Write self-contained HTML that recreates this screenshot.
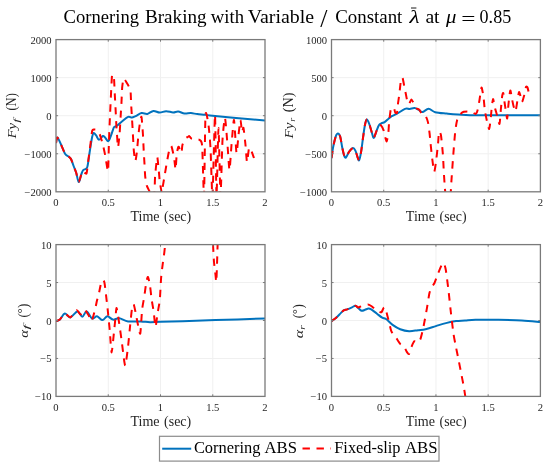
<!DOCTYPE html><html><head><meta charset="utf-8"><title>Cornering Braking</title><style>html,body{margin:0;padding:0;background:#fff;}svg{display:block;}text{font-family:'Liberation Serif', 'DejaVu Serif', serif;}</style></head><body>
<svg width="550" height="473" viewBox="0 0 550 473">
<rect width="550" height="473" fill="#fff"/>
<defs>
<clipPath id="cTL"><rect x="56.0" y="39.6" width="209.00" height="152.20"/></clipPath>
<clipPath id="cTR"><rect x="331.5" y="39.6" width="208.90" height="152.20"/></clipPath>
<clipPath id="cBL"><rect x="56.0" y="244.6" width="209.00" height="151.80"/></clipPath>
<clipPath id="cBR"><rect x="331.5" y="244.6" width="208.90" height="151.80"/></clipPath>
</defs>
<path d="M108.25 39.6V191.8M160.50 39.6V191.8M212.75 39.6V191.8M56.0 77.65H265.0M56.0 115.70H265.0M56.0 153.75H265.0" stroke="#f0f0f0" stroke-width="1" fill="none"/>
<g clip-path="url(#cTL)" fill="none" stroke-linejoin="round">
<path d="M56.00 143.00C56.25 142.08 56.53 136.93 57.50 137.50C58.47 138.07 60.52 143.65 61.80 146.40C63.08 149.15 64.07 152.30 65.20 154.00C66.33 155.70 67.62 155.73 68.60 156.60C69.58 157.47 70.27 157.63 71.10 159.20C71.93 160.77 72.75 163.75 73.60 166.00C74.45 168.25 75.35 170.03 76.20 172.70C77.05 175.37 77.85 181.72 78.70 182.00C79.55 182.28 80.58 176.35 81.30 174.40C82.02 172.45 82.20 171.25 83.00 170.30C83.80 169.35 85.33 169.47 86.10 168.70C86.87 167.93 86.97 168.73 87.60 165.70C88.23 162.67 89.13 155.32 89.90 150.50C90.67 145.68 91.57 139.72 92.20 136.80C92.83 133.88 93.07 133.27 93.70 133.00C94.33 132.73 95.12 134.07 96.00 135.20C96.88 136.33 97.87 139.67 99.00 139.80C100.13 139.93 101.78 136.38 102.80 136.00C103.82 135.62 104.20 136.62 105.10 137.50C106.00 138.38 107.30 141.42 108.20 141.30C109.10 141.18 109.75 138.57 110.50 136.80C111.25 135.03 112.10 132.30 112.70 130.70C113.30 129.10 113.38 128.03 114.10 127.20C114.82 126.37 115.65 126.68 117.00 125.70C118.35 124.72 120.35 122.77 122.20 121.30C124.05 119.83 126.48 117.52 128.10 116.90C129.72 116.28 130.65 117.73 131.90 117.60C133.15 117.47 134.00 116.85 135.60 116.10C137.20 115.35 139.53 113.47 141.50 113.10C143.47 112.73 145.42 114.27 147.40 113.90C149.38 113.53 151.35 111.12 153.40 110.90C155.45 110.68 157.58 112.55 159.70 112.60C161.82 112.65 163.87 111.23 166.10 111.20C168.33 111.17 171.08 112.35 173.10 112.40C175.12 112.45 176.30 111.32 178.20 111.50C180.10 111.68 182.38 113.23 184.50 113.50C186.62 113.77 188.77 113.00 190.90 113.10C193.03 113.20 194.97 113.83 197.30 114.10C199.63 114.37 202.78 114.48 204.90 114.70C207.02 114.92 204.82 114.87 210.00 115.40C215.18 115.93 226.83 117.03 236.00 117.90C245.17 118.77 260.17 120.15 265.00 120.60" stroke="#0072BD" stroke-width="2"/>
<path d="M56.00 143.00C56.15 142.45 56.92 137.16 57.50 137.50C58.08 137.84 61.03 144.75 61.80 146.40C62.57 148.05 64.52 152.98 65.20 154.00C65.88 155.02 68.01 156.08 68.60 156.60C69.19 157.12 70.60 158.26 71.10 159.20C71.60 160.14 73.09 164.65 73.60 166.00C74.11 167.35 75.69 171.10 76.20 172.70C76.71 174.30 78.19 181.83 78.70 182.00C79.21 182.17 80.87 175.50 81.30 174.40C81.73 173.30 82.48 171.09 83.00 171.00C83.52 170.91 85.96 174.64 86.50 173.50C87.04 172.36 88.05 162.15 88.40 159.60C88.75 157.05 89.62 150.89 90.00 148.00C90.38 145.11 91.75 132.55 92.20 130.70C92.65 128.85 94.04 129.58 94.50 129.50C94.96 129.42 96.27 129.40 96.80 129.90C97.33 130.40 99.20 133.05 99.80 134.50C100.40 135.95 102.27 142.35 102.80 144.40C103.33 146.45 104.64 152.57 105.10 155.00C105.56 157.43 107.09 167.17 107.40 168.70C107.71 170.23 108.05 172.89 108.20 170.30C108.35 167.71 108.75 147.60 108.90 142.80C109.05 138.00 109.40 128.89 109.70 122.30C110.00 115.71 111.54 81.52 111.90 76.90C112.26 72.28 113.08 75.81 113.30 76.10C113.52 76.39 113.95 77.95 114.10 79.80C114.25 81.65 114.65 91.64 114.80 94.60C114.95 97.56 115.45 106.43 115.60 109.40C115.75 112.37 116.16 121.78 116.30 124.30C116.44 126.82 116.83 132.29 117.00 134.60C117.17 136.91 117.74 147.49 118.00 147.40C118.26 147.31 119.33 136.90 119.60 133.70C119.87 130.50 120.51 118.57 120.70 115.40C120.89 112.23 121.35 104.82 121.50 102.00C121.65 99.18 121.98 89.57 122.20 87.20C122.42 84.83 123.25 78.74 123.70 78.30C124.15 77.86 126.03 81.61 126.70 82.80C127.37 83.99 129.96 88.13 130.40 90.20C130.84 92.27 130.95 100.83 131.10 103.50C131.25 106.17 131.75 114.38 131.90 116.90C132.05 119.42 132.41 125.35 132.60 128.70C132.79 132.05 133.53 147.16 133.80 150.40C134.07 153.64 135.00 160.87 135.30 161.10C135.60 161.33 136.49 155.29 136.80 152.70C137.11 150.11 138.09 138.17 138.40 135.20C138.71 132.23 139.59 124.83 139.90 123.00C140.21 121.17 141.20 115.83 141.50 116.90C141.80 117.97 142.68 130.35 142.90 133.70C143.12 137.05 143.54 147.36 143.70 150.40C143.86 153.44 144.35 161.51 144.50 164.10C144.65 166.69 144.98 174.17 145.20 176.30C145.42 178.43 146.24 183.83 146.70 185.40C147.16 186.97 149.27 190.74 149.80 192.00C150.33 193.26 151.54 198.00 152.00 198.00C152.46 198.00 154.09 194.17 154.40 192.00C154.71 189.83 154.88 179.39 155.10 176.30C155.32 173.21 156.37 163.00 156.60 161.10C156.83 159.20 157.17 156.23 157.40 157.30C157.63 158.37 158.67 169.44 158.90 171.80C159.13 174.16 159.41 178.78 159.70 180.90C159.99 183.02 161.50 192.39 161.80 193.00C162.10 193.61 162.38 188.97 162.70 187.00C163.02 185.03 164.56 175.90 165.00 173.30C165.44 170.70 166.68 163.29 167.10 161.00C167.52 158.71 168.78 151.89 169.20 150.40C169.62 148.91 170.87 145.68 171.30 146.10C171.73 146.52 173.18 153.11 173.50 154.60C173.82 156.09 174.29 159.52 174.50 161.00C174.71 162.48 175.39 169.93 175.60 169.40C175.81 168.87 176.39 157.74 176.60 155.70C176.81 153.66 177.49 149.90 177.70 149.00C177.91 148.10 178.33 146.30 178.70 146.70C179.07 147.10 181.03 153.17 181.40 153.00C181.77 152.83 182.03 146.43 182.40 145.00C182.77 143.57 184.57 139.50 185.10 138.70C185.63 137.90 187.28 137.26 187.70 137.00C188.12 136.74 188.93 135.95 189.30 136.10C189.67 136.25 190.55 138.18 191.40 138.50C192.25 138.82 196.74 138.69 197.80 139.30C198.86 139.91 201.38 138.93 202.00 144.60C202.62 150.27 203.65 198.96 204.00 196.00C204.35 193.04 205.05 122.10 205.50 115.00C205.95 107.90 208.00 121.70 208.50 125.00C209.00 128.30 210.10 140.90 210.50 148.00C210.90 155.10 212.05 199.30 212.50 196.00C212.95 192.70 214.60 115.00 215.00 115.00C215.40 115.00 216.15 194.70 216.50 196.00C216.85 197.30 218.10 128.00 218.50 128.00C218.90 128.00 220.10 194.80 220.50 196.00C220.90 197.20 222.05 147.80 222.50 140.00C222.95 132.20 224.50 117.50 225.00 118.00C225.50 118.50 227.05 139.80 227.50 145.00C227.95 150.20 229.10 170.00 229.50 170.00C229.90 170.00 231.05 150.00 231.50 145.00C231.95 140.00 233.50 119.20 234.00 120.00C234.50 120.80 236.05 151.50 236.50 153.00C236.95 154.50 238.10 138.30 238.50 135.00C238.90 131.70 240.15 120.30 240.50 120.00C240.85 119.70 241.70 131.20 242.00 132.00C242.30 132.80 243.15 126.70 243.50 128.00C243.85 129.30 245.15 141.60 245.50 145.00C245.85 148.40 246.65 161.70 247.00 162.00C247.35 162.30 248.60 149.20 249.00 148.00C249.40 146.80 250.50 149.00 251.00 150.00C251.50 151.00 253.70 157.20 254.00 158.00" stroke="#FF0000" stroke-width="2" stroke-dasharray="7.4 6.6"/>
</g>
<path d="M108.25 191.8v-2.1M108.25 39.6v2.1M160.50 191.8v-2.1M160.50 39.6v2.1M212.75 191.8v-2.1M212.75 39.6v2.1M56.0 77.65h2.1M265.0 77.65h-2.1M56.0 115.70h2.1M265.0 115.70h-2.1M56.0 153.75h2.1M265.0 153.75h-2.1" stroke="#7a7a7a" stroke-width="1" fill="none"/>
<rect x="56.0" y="39.6" width="209.00" height="152.20" stroke="#7a7a7a" stroke-width="1.3" fill="none"/>
<g font-size="10.6" fill="#262626">
<text x="51.60" y="43.60" text-anchor="end">2000</text>
<text x="51.60" y="81.65" text-anchor="end">1000</text>
<text x="51.60" y="119.70" text-anchor="end">0</text>
<text x="51.60" y="157.75" text-anchor="end">−1000</text>
<text x="51.60" y="195.80" text-anchor="end">−2000</text>
<text x="56.00" y="206.20" text-anchor="middle">0</text>
<text x="108.25" y="206.20" text-anchor="middle">0.5</text>
<text x="160.50" y="206.20" text-anchor="middle">1</text>
<text x="212.75" y="206.20" text-anchor="middle">1.5</text>
<text x="265.00" y="206.20" text-anchor="middle">2</text>
</g>
<text x="130.40" y="221.00" font-size="13.9" fill="#262626" textLength="29.2" lengthAdjust="spacingAndGlyphs">Time</text>
<text x="164.10" y="221.00" font-size="13.9" fill="#262626" textLength="27.0" lengthAdjust="spacingAndGlyphs">(sec)</text>
<path d="M383.73 39.6V191.8M435.95 39.6V191.8M488.17 39.6V191.8M331.5 77.65H540.4M331.5 115.70H540.4M331.5 153.75H540.4" stroke="#f0f0f0" stroke-width="1" fill="none"/>
<g clip-path="url(#cTR)" fill="none" stroke-linejoin="round">
<path d="M331.50 158.20C331.78 156.30 332.50 150.40 333.20 146.80C333.90 143.20 334.92 138.82 335.70 136.60C336.48 134.38 337.15 133.50 337.90 133.50C338.65 133.50 339.50 134.38 340.20 136.60C340.90 138.82 341.47 143.73 342.10 146.80C342.73 149.87 343.37 153.20 344.00 155.00C344.63 156.80 345.07 158.12 345.90 157.60C346.73 157.08 347.85 153.48 349.00 151.90C350.15 150.32 351.73 148.32 352.80 148.10C353.87 147.88 354.55 148.92 355.40 150.60C356.25 152.28 357.27 156.62 357.90 158.20C358.53 159.78 358.67 161.15 359.20 160.10C359.73 159.05 360.47 155.60 361.10 151.90C361.73 148.20 362.37 142.35 363.00 137.90C363.63 133.45 364.27 128.27 364.90 125.20C365.53 122.13 366.07 119.70 366.80 119.50C367.53 119.30 368.45 121.78 369.30 124.00C370.15 126.22 371.15 130.48 371.90 132.80C372.65 135.12 373.07 138.10 373.80 137.90C374.53 137.70 375.45 133.72 376.30 131.60C377.15 129.48 378.05 126.58 378.90 125.20C379.75 123.82 380.45 123.82 381.40 123.30C382.35 122.78 383.55 122.73 384.60 122.10C385.65 121.47 386.68 120.38 387.70 119.50C388.72 118.62 389.15 117.77 390.70 116.80C392.25 115.83 394.62 115.02 397.00 113.70C399.38 112.38 402.88 109.70 405.00 108.90C407.12 108.10 408.12 109.03 409.70 108.90C411.28 108.77 413.03 107.97 414.50 108.10C415.97 108.23 417.18 109.03 418.50 109.70C419.82 110.37 420.72 112.25 422.40 112.10C424.08 111.95 426.47 108.78 428.60 108.80C430.73 108.82 432.18 111.40 435.20 112.20C438.22 113.00 442.88 113.22 446.70 113.60C450.52 113.98 452.55 114.22 458.10 114.50C463.65 114.78 466.28 115.17 480.00 115.30C493.72 115.43 530.33 115.30 540.40 115.30" stroke="#0072BD" stroke-width="2"/>
<path d="M331.50 158.20C331.67 157.06 332.78 148.96 333.20 146.80C333.62 144.64 335.23 137.93 335.70 136.60C336.17 135.27 337.45 133.50 337.90 133.50C338.35 133.50 339.78 135.27 340.20 136.60C340.62 137.93 341.72 144.96 342.10 146.80C342.48 148.64 343.62 153.92 344.00 155.00C344.38 156.08 345.40 157.91 345.90 157.60C346.40 157.29 348.31 152.85 349.00 151.90C349.69 150.95 352.16 148.23 352.80 148.10C353.44 147.97 354.89 149.59 355.40 150.60C355.91 151.61 357.52 157.25 357.90 158.20C358.28 159.15 358.88 160.73 359.20 160.10C359.52 159.47 360.72 154.12 361.10 151.90C361.48 149.68 362.62 140.57 363.00 137.90C363.38 135.23 364.52 127.04 364.90 125.20C365.28 123.36 366.36 119.62 366.80 119.50C367.24 119.38 368.79 122.67 369.30 124.00C369.81 125.33 371.45 131.41 371.90 132.80C372.35 134.19 373.36 138.02 373.80 137.90C374.24 137.78 375.79 132.87 376.30 131.60C376.81 130.33 378.41 125.80 378.90 125.20C379.39 124.60 380.73 125.09 381.20 125.60C381.67 126.11 383.21 129.19 383.60 130.30C383.99 131.41 384.79 135.59 385.10 136.70C385.41 137.81 386.38 141.72 386.70 141.40C387.02 141.08 388.06 135.40 388.30 133.50C388.54 131.60 388.86 124.78 389.10 122.40C389.34 120.02 390.36 111.19 390.70 109.70C391.04 108.21 392.17 107.67 392.50 107.50C392.83 107.33 393.73 107.50 394.00 108.00C394.27 108.50 394.90 112.01 395.20 112.50C395.50 112.99 396.74 113.66 397.00 112.90C397.26 112.14 397.56 106.81 397.80 104.90C398.04 102.99 399.08 96.34 399.40 93.80C399.72 91.26 400.68 81.09 401.00 79.50C401.32 77.91 402.28 77.26 402.60 77.90C402.92 78.54 403.88 84.31 404.20 85.90C404.52 87.49 405.48 92.22 405.80 93.80C406.12 95.38 407.08 100.67 407.40 101.70C407.72 102.73 408.61 104.33 409.00 104.10C409.39 103.87 410.83 99.48 411.30 99.40C411.77 99.32 413.22 102.43 413.70 103.30C414.18 104.17 415.54 107.46 416.10 108.10C416.66 108.74 418.74 109.14 419.30 109.70C419.86 110.26 421.07 113.07 421.70 113.70C422.33 114.33 424.97 115.13 425.60 116.00C426.23 116.87 427.60 120.65 428.00 122.40C428.40 124.15 429.35 131.43 429.60 133.50C429.85 135.57 430.22 140.43 430.50 143.10C430.78 145.77 432.02 157.34 432.40 160.20C432.78 163.06 433.92 171.70 434.30 171.70C434.68 171.70 435.82 163.06 436.20 160.20C436.58 157.34 437.82 145.95 438.10 143.10C438.38 140.25 438.71 132.46 439.00 131.70C439.29 130.94 440.61 133.22 441.00 135.50C441.39 137.78 442.62 150.88 442.90 154.50C443.18 158.12 443.61 168.46 443.80 171.70C443.99 174.94 444.61 184.57 444.80 186.90C444.99 189.23 445.38 193.79 445.70 195.00C446.02 196.21 447.52 199.00 448.00 199.00C448.48 199.00 450.16 196.78 450.50 195.00C450.84 193.22 451.12 185.25 451.40 181.20C451.68 177.15 452.92 159.45 453.30 154.50C453.68 149.55 454.82 135.13 455.20 131.70C455.58 128.27 456.62 121.92 457.10 120.20C457.58 118.48 459.33 115.35 460.00 114.50C460.67 113.65 462.66 111.98 463.80 111.70C464.94 111.42 470.23 111.47 471.40 111.70C472.57 111.93 474.89 114.12 475.50 114.00C476.11 113.88 477.10 111.90 477.50 110.50C477.90 109.10 479.10 102.30 479.50 100.00C479.90 97.70 481.10 87.80 481.50 87.50C481.90 87.20 483.17 94.75 483.50 97.00C483.83 99.25 484.50 107.80 484.80 110.00C485.10 112.20 486.08 117.10 486.50 119.00C486.92 120.90 488.60 128.80 489.00 129.00C489.40 129.20 490.25 122.90 490.50 121.00C490.75 119.10 491.25 112.20 491.50 110.00C491.75 107.80 492.65 99.20 493.00 99.00C493.35 98.80 494.60 106.40 495.00 108.00C495.40 109.60 496.55 113.40 497.00 115.00C497.45 116.60 499.12 124.50 499.50 124.00C499.88 123.50 500.53 112.80 500.80 110.00C501.07 107.20 501.95 97.70 502.20 96.00C502.45 94.30 503.07 92.40 503.30 93.00C503.53 93.60 504.23 100.10 504.50 102.00C504.77 103.90 505.73 110.35 506.00 112.00C506.27 113.65 506.97 119.10 507.20 118.50C507.43 117.90 508.07 108.35 508.30 106.00C508.53 103.65 509.28 96.55 509.50 95.00C509.72 93.45 510.25 90.10 510.50 90.50C510.75 90.90 511.70 97.45 512.00 99.00C512.30 100.55 513.15 104.75 513.50 106.00C513.85 107.25 515.10 112.10 515.50 111.50C515.90 110.90 517.15 101.95 517.50 100.00C517.85 98.05 518.70 92.40 519.00 92.00C519.30 91.60 520.20 95.00 520.50 96.00C520.80 97.00 521.65 102.00 522.00 102.00C522.35 102.00 523.60 97.50 524.00 96.00C524.40 94.50 525.65 87.85 526.00 87.00C526.35 86.15 527.17 86.70 527.50 87.50C527.83 88.30 529.12 94.25 529.30 95.00" stroke="#FF0000" stroke-width="2" stroke-dasharray="7.4 6.6"/>
</g>
<path d="M383.73 191.8v-2.1M383.73 39.6v2.1M435.95 191.8v-2.1M435.95 39.6v2.1M488.17 191.8v-2.1M488.17 39.6v2.1M331.5 77.65h2.1M540.4 77.65h-2.1M331.5 115.70h2.1M540.4 115.70h-2.1M331.5 153.75h2.1M540.4 153.75h-2.1" stroke="#7a7a7a" stroke-width="1" fill="none"/>
<rect x="331.5" y="39.6" width="208.90" height="152.20" stroke="#7a7a7a" stroke-width="1.3" fill="none"/>
<g font-size="10.6" fill="#262626">
<text x="327.10" y="43.60" text-anchor="end">1000</text>
<text x="327.10" y="81.65" text-anchor="end">500</text>
<text x="327.10" y="119.70" text-anchor="end">0</text>
<text x="327.10" y="157.75" text-anchor="end">−500</text>
<text x="327.10" y="195.80" text-anchor="end">−1000</text>
<text x="331.50" y="206.20" text-anchor="middle">0</text>
<text x="383.73" y="206.20" text-anchor="middle">0.5</text>
<text x="435.95" y="206.20" text-anchor="middle">1</text>
<text x="488.17" y="206.20" text-anchor="middle">1.5</text>
<text x="540.40" y="206.20" text-anchor="middle">2</text>
</g>
<text x="405.85" y="221.00" font-size="13.9" fill="#262626" textLength="29.2" lengthAdjust="spacingAndGlyphs">Time</text>
<text x="439.55" y="221.00" font-size="13.9" fill="#262626" textLength="27.0" lengthAdjust="spacingAndGlyphs">(sec)</text>
<path d="M108.25 244.6V396.4M160.50 244.6V396.4M212.75 244.6V396.4M56.0 282.55H265.0M56.0 320.50H265.0M56.0 358.45H265.0" stroke="#f0f0f0" stroke-width="1" fill="none"/>
<g clip-path="url(#cBL)" fill="none" stroke-linejoin="round">
<path d="M56.00 321.20C56.65 320.92 58.43 320.78 59.90 319.50C61.37 318.22 63.07 313.85 64.80 313.50C66.53 313.15 68.20 317.75 70.30 317.40C72.40 317.05 75.40 311.50 77.40 311.40C79.40 311.30 80.77 316.80 82.30 316.80C83.83 316.80 84.97 311.12 86.60 311.40C88.23 311.68 90.37 317.68 92.10 318.50C93.83 319.32 95.27 316.03 97.00 316.30C98.73 316.57 100.77 320.10 102.50 320.10C104.23 320.10 105.67 316.38 107.40 316.30C109.13 316.22 110.93 319.27 112.90 319.60C114.87 319.93 116.67 318.00 119.20 318.30C121.73 318.60 124.50 320.88 128.10 321.40C131.70 321.92 137.15 321.27 140.80 321.40C144.45 321.53 146.65 322.13 150.00 322.20C153.35 322.27 155.45 321.97 160.90 321.80C166.35 321.63 173.60 321.48 182.70 321.20C191.80 320.92 201.78 320.55 215.50 320.10C229.22 319.65 256.75 318.77 265.00 318.50" stroke="#0072BD" stroke-width="2"/>
<path d="M56.00 321.20C56.39 321.03 59.02 320.27 59.90 319.50C60.78 318.73 63.76 313.71 64.80 313.50C65.84 313.29 69.10 317.72 70.30 317.40C71.50 317.08 75.78 310.59 76.80 310.30C77.82 310.01 79.73 314.56 80.50 314.50C81.27 314.44 83.67 309.58 84.50 309.70C85.33 309.82 88.10 314.55 88.80 315.70C89.50 316.85 91.01 321.31 91.50 321.20C91.99 321.09 93.31 315.91 93.70 314.60C94.09 313.29 95.07 309.51 95.40 308.10C95.73 306.69 96.68 301.81 97.00 300.50C97.32 299.19 98.16 296.90 98.60 295.00C99.04 293.10 100.96 282.97 101.40 281.50C101.84 280.03 102.71 280.25 103.00 280.30C103.29 280.35 104.08 281.25 104.30 282.00C104.52 282.75 104.85 284.93 105.20 287.80C105.55 290.67 107.34 306.38 107.80 310.70C108.26 315.02 109.42 326.81 109.80 331.00C110.18 335.19 111.17 352.60 111.60 352.60C112.03 352.60 113.72 334.43 114.10 331.00C114.48 327.57 115.15 320.59 115.40 318.30C115.65 316.01 116.22 307.59 116.60 308.10C116.98 308.61 118.69 320.09 119.20 323.40C119.71 326.71 121.19 337.39 121.70 341.20C122.21 345.01 123.92 359.09 124.30 361.50C124.68 363.91 125.12 366.83 125.50 365.30C125.88 363.77 127.64 350.14 128.10 346.20C128.56 342.26 129.72 329.58 130.10 325.90C130.48 322.22 131.54 311.56 131.90 309.40C132.26 307.24 133.32 303.92 133.70 304.30C134.08 304.68 135.25 311.04 135.70 313.20C136.15 315.36 137.74 323.87 138.20 325.90C138.66 327.93 139.91 335.11 140.30 333.50C140.69 331.89 141.71 313.45 142.10 309.80C142.49 306.15 143.78 299.75 144.20 297.00C144.62 294.25 145.92 284.30 146.30 282.30C146.68 280.30 147.62 276.58 148.00 277.00C148.38 277.42 149.74 284.28 150.10 286.50C150.46 288.72 151.24 296.66 151.60 299.20C151.96 301.74 153.31 309.12 153.70 311.90C154.09 314.68 155.11 326.88 155.50 327.00C155.89 327.12 157.17 315.80 157.60 313.10C158.03 310.40 159.45 303.51 159.80 300.00C160.15 296.49 160.80 281.67 161.10 278.00C161.40 274.33 162.48 265.83 162.80 263.30C163.12 260.77 164.02 255.03 164.30 252.70C164.58 250.37 165.38 242.27 165.60 240.00C165.82 237.73 166.41 231.00 166.50 230.00" stroke="#FF0000" stroke-width="2" stroke-dasharray="7.4 6.6"/>
<path d="M212.60 238.00C212.66 239.00 213.06 245.60 213.20 248.00C213.34 250.40 213.77 259.30 214.00 262.00C214.23 264.70 215.27 273.00 215.50 275.00C215.73 277.00 216.15 283.00 216.30 282.00C216.45 281.00 216.85 269.40 217.00 265.00C217.15 260.60 217.72 240.70 217.80 238.00" stroke="#FF0000" stroke-width="2" stroke-dasharray="7.4 6.6" stroke-dashoffset="7.4"/>
</g>
<path d="M108.25 396.4v-2.1M108.25 244.6v2.1M160.50 396.4v-2.1M160.50 244.6v2.1M212.75 396.4v-2.1M212.75 244.6v2.1M56.0 282.55h2.1M265.0 282.55h-2.1M56.0 320.50h2.1M265.0 320.50h-2.1M56.0 358.45h2.1M265.0 358.45h-2.1" stroke="#7a7a7a" stroke-width="1" fill="none"/>
<rect x="56.0" y="244.6" width="209.00" height="151.80" stroke="#7a7a7a" stroke-width="1.3" fill="none"/>
<g font-size="10.6" fill="#262626">
<text x="51.60" y="248.60" text-anchor="end">10</text>
<text x="51.60" y="286.55" text-anchor="end">5</text>
<text x="51.60" y="324.50" text-anchor="end">0</text>
<text x="51.60" y="362.45" text-anchor="end">−5</text>
<text x="51.60" y="400.40" text-anchor="end">−10</text>
<text x="56.00" y="410.80" text-anchor="middle">0</text>
<text x="108.25" y="410.80" text-anchor="middle">0.5</text>
<text x="160.50" y="410.80" text-anchor="middle">1</text>
<text x="212.75" y="410.80" text-anchor="middle">1.5</text>
<text x="265.00" y="410.80" text-anchor="middle">2</text>
</g>
<text x="130.40" y="425.60" font-size="13.9" fill="#262626" textLength="29.2" lengthAdjust="spacingAndGlyphs">Time</text>
<text x="164.10" y="425.60" font-size="13.9" fill="#262626" textLength="27.0" lengthAdjust="spacingAndGlyphs">(sec)</text>
<path d="M383.73 244.6V396.4M435.95 244.6V396.4M488.17 244.6V396.4M331.5 282.55H540.4M331.5 320.50H540.4M331.5 358.45H540.4" stroke="#f0f0f0" stroke-width="1" fill="none"/>
<g clip-path="url(#cBR)" fill="none" stroke-linejoin="round">
<path d="M331.50 321.10C332.28 320.53 334.62 319.07 336.20 317.70C337.78 316.33 339.75 314.12 341.00 312.90C342.25 311.68 342.67 310.98 343.70 310.40C344.73 309.82 345.82 309.90 347.20 309.40C348.58 308.90 350.63 308.02 352.00 307.40C353.37 306.78 354.37 305.60 355.40 305.70C356.43 305.80 357.17 307.15 358.20 308.00C359.23 308.85 360.47 310.50 361.60 310.80C362.73 311.10 363.85 310.18 365.00 309.80C366.15 309.42 367.47 308.57 368.50 308.50C369.53 308.43 369.83 308.57 371.20 309.40C372.57 310.23 374.87 312.12 376.70 313.50C378.53 314.88 380.65 316.78 382.20 317.70C383.75 318.62 384.27 317.80 386.00 319.00C387.73 320.20 390.23 323.20 392.60 324.90C394.97 326.60 397.45 328.15 400.20 329.20C402.95 330.25 406.13 331.03 409.10 331.20C412.07 331.37 415.25 330.53 418.00 330.20C420.75 329.87 422.63 329.88 425.60 329.20C428.57 328.52 432.42 327.12 435.80 326.10C439.18 325.08 442.52 323.93 445.90 323.10C449.28 322.27 452.92 321.52 456.10 321.10C459.28 320.68 461.77 320.82 465.00 320.60C468.23 320.38 469.90 319.93 475.50 319.80C481.10 319.67 490.88 319.70 498.60 319.80C506.32 319.90 514.83 320.02 521.80 320.40C528.77 320.78 537.30 321.82 540.40 322.10" stroke="#0072BD" stroke-width="2"/>
<path d="M331.50 321.10C331.97 320.76 335.25 318.52 336.20 317.70C337.15 316.88 340.25 313.63 341.00 312.90C341.75 312.17 343.08 310.75 343.70 310.40C344.32 310.05 346.37 309.70 347.20 309.40C348.03 309.10 351.18 307.77 352.00 307.40C352.82 307.03 354.78 305.70 355.40 305.70C356.02 305.70 357.64 307.33 358.20 307.40C358.76 307.47 360.39 306.57 361.00 306.40C361.61 306.23 363.62 305.88 364.30 305.70C364.98 305.52 367.11 304.57 367.80 304.60C368.49 304.63 370.45 305.52 371.20 306.00C371.95 306.48 374.47 308.82 375.30 309.40C376.13 309.98 378.88 311.52 379.50 311.80C380.12 312.08 381.09 312.58 381.50 312.20C381.91 311.82 383.25 308.48 383.60 308.00C383.95 307.52 384.73 307.05 385.00 307.40C385.27 307.75 386.03 310.54 386.30 311.50C386.57 312.46 387.45 316.04 387.70 317.00C387.95 317.96 388.44 319.68 388.80 321.10C389.16 322.52 390.66 329.68 391.30 331.20C391.94 332.72 394.31 335.03 395.20 336.30C396.09 337.57 399.32 342.89 400.20 343.90C401.08 344.91 403.36 345.64 404.00 346.40C404.64 347.16 406.09 350.74 406.60 351.50C407.11 352.26 408.59 354.51 409.10 354.00C409.61 353.49 411.19 347.66 411.70 346.40C412.21 345.14 413.57 341.78 414.20 341.40C414.83 341.02 417.37 342.86 418.00 342.60C418.63 342.34 419.99 340.19 420.50 338.80C421.01 337.41 422.46 331.74 423.10 328.70C423.74 325.66 426.27 311.95 426.90 308.40C427.53 304.85 428.89 295.36 429.40 293.20C429.91 291.04 431.49 287.82 432.00 286.80C432.51 285.78 433.87 284.39 434.50 283.00C435.13 281.61 437.54 274.80 438.30 272.90C439.06 271.00 441.54 264.97 442.10 264.00C442.66 263.03 443.52 262.57 443.90 263.20C444.28 263.83 445.44 267.56 445.90 270.30C446.36 273.04 447.99 286.28 448.50 290.60C449.01 294.92 450.50 309.18 451.00 313.50C451.50 317.82 453.05 330.67 453.50 333.80C453.95 336.93 455.00 342.22 455.50 344.80C456.00 347.38 457.91 356.64 458.50 359.60C459.09 362.56 460.88 371.74 461.40 374.40C461.92 377.06 463.33 384.13 463.70 386.20C464.07 388.27 464.87 393.72 465.10 395.10C465.33 396.48 465.91 399.51 466.00 400.00" stroke="#FF0000" stroke-width="2" stroke-dasharray="7.4 6.6"/>
</g>
<path d="M383.73 396.4v-2.1M383.73 244.6v2.1M435.95 396.4v-2.1M435.95 244.6v2.1M488.17 396.4v-2.1M488.17 244.6v2.1M331.5 282.55h2.1M540.4 282.55h-2.1M331.5 320.50h2.1M540.4 320.50h-2.1M331.5 358.45h2.1M540.4 358.45h-2.1" stroke="#7a7a7a" stroke-width="1" fill="none"/>
<rect x="331.5" y="244.6" width="208.90" height="151.80" stroke="#7a7a7a" stroke-width="1.3" fill="none"/>
<g font-size="10.6" fill="#262626">
<text x="327.10" y="248.60" text-anchor="end">10</text>
<text x="327.10" y="286.55" text-anchor="end">5</text>
<text x="327.10" y="324.50" text-anchor="end">0</text>
<text x="327.10" y="362.45" text-anchor="end">−5</text>
<text x="327.10" y="400.40" text-anchor="end">−10</text>
<text x="331.50" y="410.80" text-anchor="middle">0</text>
<text x="383.73" y="410.80" text-anchor="middle">0.5</text>
<text x="435.95" y="410.80" text-anchor="middle">1</text>
<text x="488.17" y="410.80" text-anchor="middle">1.5</text>
<text x="540.40" y="410.80" text-anchor="middle">2</text>
</g>
<text x="405.85" y="425.60" font-size="13.9" fill="#262626" textLength="29.2" lengthAdjust="spacingAndGlyphs">Time</text>
<text x="439.55" y="425.60" font-size="13.9" fill="#262626" textLength="27.0" lengthAdjust="spacingAndGlyphs">(sec)</text>
<text transform="translate(16.00,0) rotate(-90)" x="-138.60" y="0" font-size="13.2" font-style="italic" fill="#262626" textLength="15.60" lengthAdjust="spacingAndGlyphs">Fy</text>
<text transform="translate(19.00,0) rotate(-90)" x="-122.80" y="0" font-size="8.2" font-style="italic" fill="#262626" textLength="4.20" lengthAdjust="spacingAndGlyphs">f</text>
<text transform="translate(16.40,0) rotate(-90)" x="-110.60" y="0" font-size="14.2" fill="#262626" textLength="17.40" lengthAdjust="spacingAndGlyphs">(N)</text>
<text transform="translate(292.80,0) rotate(-90)" x="-138.50" y="0" font-size="13.2" font-style="italic" fill="#262626" textLength="15.90" lengthAdjust="spacingAndGlyphs">Fy</text>
<text transform="translate(295.40,0) rotate(-90)" x="-121.80" y="0" font-size="8.8" font-style="italic" fill="#262626" textLength="4.00" lengthAdjust="spacingAndGlyphs">r</text>
<text transform="translate(293.20,0) rotate(-90)" x="-112.20" y="0" font-size="14.2" fill="#262626" textLength="19.60" lengthAdjust="spacingAndGlyphs">(N)</text>
<text transform="translate(27.60,0) rotate(-90)" x="-337.80" y="0" font-size="12.6" font-style="italic" fill="#262626" textLength="7.80" lengthAdjust="spacingAndGlyphs">α</text>
<text transform="translate(29.20,0) rotate(-90)" x="-329.80" y="0" font-size="8.2" font-style="italic" fill="#262626" textLength="5.20" lengthAdjust="spacingAndGlyphs">f</text>
<text transform="translate(28.20,0) rotate(-90)" x="-317.60" y="0" font-size="14.6" fill="#262626" textLength="13.80" lengthAdjust="spacingAndGlyphs">(  )</text>
<text transform="translate(26.1,0) rotate(-90)" x="-310.9" y="0" text-anchor="middle" font-size="12" fill="#262626">°</text>
<text transform="translate(302.80,0) rotate(-90)" x="-338.20" y="0" font-size="12.6" font-style="italic" fill="#262626" textLength="8.40" lengthAdjust="spacingAndGlyphs">α</text>
<text transform="translate(305.00,0) rotate(-90)" x="-329.80" y="0" font-size="8.8" font-style="italic" fill="#262626" textLength="4.40" lengthAdjust="spacingAndGlyphs">r</text>
<text transform="translate(303.40,0) rotate(-90)" x="-318.20" y="0" font-size="14.6" fill="#262626" textLength="14.00" lengthAdjust="spacingAndGlyphs">(  )</text>
<text transform="translate(301.3,0) rotate(-90)" x="-311.5" y="0" text-anchor="middle" font-size="12" fill="#262626">°</text>
<g font-size="18" fill="#000">
<text x="63.6" y="23" textLength="75.4" lengthAdjust="spacingAndGlyphs">Cornering</text>
<text x="145.0" y="23" textLength="61.6" lengthAdjust="spacingAndGlyphs">Braking</text>
<text x="210.8" y="23" textLength="33.2" lengthAdjust="spacingAndGlyphs">with</text>
<text x="247.8" y="23" textLength="66.2" lengthAdjust="spacingAndGlyphs">Variable</text>
<text x="320.2" y="26.6" font-size="25" textLength="7.2" lengthAdjust="spacingAndGlyphs">/</text>
<text x="335.2" y="23" textLength="67.2" lengthAdjust="spacingAndGlyphs">Constant</text>
<text x="409.4" y="23" font-style="italic" textLength="10.0" lengthAdjust="spacingAndGlyphs">λ</text>
<path d="M411 8H416.4" stroke="#000" stroke-width="0.9"/>
<text x="425.4" y="23" textLength="14.2" lengthAdjust="spacingAndGlyphs">at</text>
<text x="446.0" y="23" font-style="italic" textLength="10.4" lengthAdjust="spacingAndGlyphs">μ</text>
<text x="461.3" y="24.5" font-size="18"  textLength="14.2" lengthAdjust="spacingAndGlyphs">=</text>
<text x="479.6" y="23" textLength="31.6" lengthAdjust="spacingAndGlyphs">0.85</text>
</g>
<rect x="159.5" y="436.3" width="279.5" height="24.8" fill="#fff" stroke="#8c8c8c" stroke-width="1.2"/>
<path d="M162.2 448.7H191.2" stroke="#0072BD" stroke-width="2"/>
<path d="M302.5 448.6H331" stroke="#FF0000" stroke-width="2" stroke-dasharray="7.4 6.6"/>
<g font-size="16" fill="#000">
<text x="193.9" y="452.9" textLength="66.6" lengthAdjust="spacingAndGlyphs">Cornering</text>
<text x="264.6" y="452.9" textLength="32.4" lengthAdjust="spacingAndGlyphs">ABS</text>
<text x="334.3" y="452.9" textLength="66.2" lengthAdjust="spacingAndGlyphs">Fixed-slip</text>
<text x="405.0" y="452.9" textLength="32.6" lengthAdjust="spacingAndGlyphs">ABS</text>
</g>
</svg></body></html>
